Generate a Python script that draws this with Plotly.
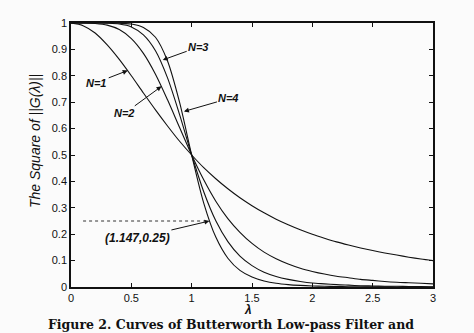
import plotly.graph_objects as go

lam = [0.0, 0.1, 0.2, 0.3, 0.4, 0.5, 0.6, 0.7, 0.8, 0.9, 1.0, 1.1, 1.2, 1.3, 1.4, 1.5,
       1.6, 1.7, 1.8, 1.9, 2.0, 2.1, 2.2, 2.3, 2.4, 2.5, 2.6, 2.7, 2.8, 2.9, 3.0]

g_n1 = [1.000, 0.990, 0.962, 0.917, 0.862, 0.800, 0.735, 0.671, 0.610, 0.552, 0.500,
        0.452, 0.410, 0.372, 0.338, 0.308, 0.281, 0.257, 0.236, 0.217, 0.200, 0.185,
        0.171, 0.159, 0.148, 0.138, 0.129, 0.121, 0.113, 0.106, 0.100]
g_n2 = [1.000, 1.000, 0.998, 0.992, 0.975, 0.941, 0.885, 0.806, 0.709, 0.604, 0.500,
        0.406, 0.325, 0.259, 0.207, 0.165, 0.132, 0.107, 0.087, 0.071, 0.059, 0.049,
        0.041, 0.035, 0.029, 0.025, 0.021, 0.018, 0.016, 0.014, 0.012]
g_n3 = [1.000, 1.000, 1.000, 0.999, 0.996, 0.985, 0.955, 0.895, 0.792, 0.653, 0.500,
        0.361, 0.251, 0.172, 0.117, 0.081, 0.056, 0.040, 0.029, 0.021, 0.015, 0.012,
        0.009, 0.007, 0.005, 0.004, 0.003, 0.003, 0.002, 0.002, 0.001]
g_n4 = [1.000, 1.000, 1.000, 1.000, 0.999, 0.996, 0.983, 0.946, 0.856, 0.699, 0.500,
        0.318, 0.189, 0.109, 0.063, 0.038, 0.023, 0.014, 0.009, 0.006, 0.004, 0.003,
        0.002, 0.001, 0.001, 0.001, 0.001, 0.000, 0.000, 0.000, 0.000]

series = [("N=1", g_n1), ("N=2", g_n2), ("N=3", g_n3), ("N=4", g_n4)]

ref_x = [0.1, 1.1]
ref_y = [0.25, 0.25]
marked_point = (1.147, 0.25)

x_ticks = [0, 0.5, 1, 1.5, 2, 2.5, 3]
x_tick_labels = ["0", "0.5", "1", "1.5", "2", "2.5", "3"]
y_ticks = [0, 0.1, 0.2, 0.3, 0.4, 0.5, 0.6, 0.7, 0.8, 0.9, 1]
y_tick_labels = ["0", "0.1", "0.2", "0.3", "0.4", "0.5", "0.6", "0.7", "0.8", "0.9", "1"]

fig = go.Figure()
for name, vals in series:
    fig.add_trace(go.Scatter(x=lam, y=vals, mode="lines", name=name,
                             line=dict(color="#111111", width=1.1, shape="spline", smoothing=0.8),
                             showlegend=False))
fig.add_trace(go.Scatter(x=ref_x, y=ref_y, mode="lines", showlegend=False,
                         line=dict(color="#333333", width=1, dash="dot")))

lab_font = dict(family="Liberation Sans", size=11, color="#111111")
arrow_specs = [
    ("N=1", 0.47, 0.82, -31, 12),
    ("N=2", 0.75, 0.76, -37, 27),
    ("N=3", 0.76, 0.86, 36, -13),
    ("N=4", 0.936, 0.665, 45, -13),
    ("(1.147,0.25)", marked_point[0], marked_point[1], -72, 17),
]
for text, hx, hy, ax, ay in arrow_specs:
    fig.add_annotation(x=hx, y=hy, xref="x", yref="y", ax=ax, ay=ay,
                       text="<b><i>%s</i></b>" % text, showarrow=True,
                       arrowhead=2, arrowsize=1, arrowwidth=1, arrowcolor="#111111",
                       font=dict(family="Liberation Sans", size=12 if text.startswith("(") else 11,
                                 color="#111111"))

# axis titles and caption
fig.add_annotation(x=-0.0994, y=0.553, xref="paper", yref="paper", showarrow=False,
                   xanchor="center", yanchor="middle",
                   text="<i>The Square of ||G(λ)||</i>", textangle=-90,
                   font=dict(family="Liberation Sans", size=14, color="#111111"))
fig.add_annotation(x=0.489, y=-0.088, xref="paper", yref="paper", showarrow=False,
                   xanchor="center", yanchor="middle", borderpad=0,
                   text="<b><i>λ</i></b>",
                   font=dict(family="Liberation Sans", size=12, color="#111111"))
fig.add_annotation(x=0.442, y=-0.174, xref="paper", yref="paper", showarrow=False,
                   xanchor="center", yanchor="bottom", borderpad=0,
                   text="<b>Figure 2. Curves of Butterworth Low-pass Filter and</b>",
                   font=dict(family="DejaVu Serif", size=12.5, color="#111111"))

axis_common = dict(showline=True, linecolor="#111111", linewidth=1.5, mirror="ticks",
                   ticks="inside", ticklen=4, tickcolor="#111111", showgrid=False,
                   zeroline=False, tickfont=lab_font)
fig.update_xaxes(range=[0, 3], tickvals=x_ticks, ticktext=x_tick_labels, **axis_common)
fig.update_yaxes(range=[0, 1], tickvals=y_ticks, ticktext=y_tick_labels, **axis_common)

fig.update_layout(width=474, height=333, margin=dict(l=71, r=41, t=23, b=46),
                  paper_bgcolor="#fbfbfb", plot_bgcolor="#fbfbfb",
                  font=dict(family="Liberation Sans", color="#111111"))
fig.write_html("out.html")
